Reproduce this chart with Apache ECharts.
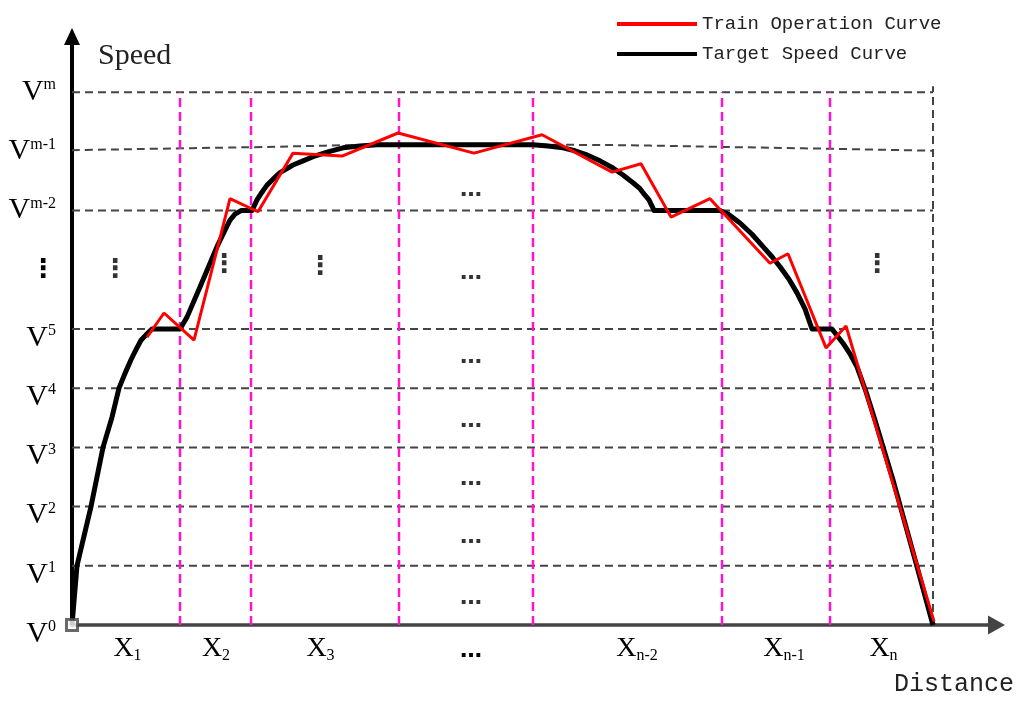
<!DOCTYPE html>
<html>
<head>
<meta charset="utf-8">
<script src="https://cdn.jsdelivr.net/npm/echarts@6/dist/echarts.min.js"></script>
<style>html,body{margin:0;padding:0;background:#fff}#c{width:1024px;height:707px}</style>
</head>
<body>
<div id="c"></div>
<script>
// ---- data (x: distance units, y: speed level units) ----
const targetCurve = [[0,0],[5,1.0],[12,1.5],[19,2.0],[25,2.5],[31,3.0],[40,3.51],[47,4.0],[53,4.25],[59,4.48],[64,4.65],[69,4.81],[74,4.9],[80,5.0],[108,5.0],[115,5.2],[128,5.71],[145,6.39],[153,6.67],[158,6.84],[163,6.94],[169,7.0],[180,7.0],[185,7.18],[190,7.31],[195,7.43],[201,7.53],[208,7.64],[221,7.77],[231,7.84],[241,7.91],[256,7.99],[271,8.06],[288,8.09],[305,8.11],[461,8.11],[476,8.09],[491,8.06],[503,8.01],[515,7.94],[528,7.84],[541,7.72],[551,7.6],[561,7.47],[568,7.37],[573,7.26],[577,7.18],[579,7.11],[581,7.04],[582,7.0],[648,7.0],[656,6.94],[668,6.79],[680,6.6],[691,6.39],[700,6.22],[708,6.05],[717,5.84],[725,5.61],[733,5.34],[740,5.0],[760,5.0],[771,4.76],[778,4.58],[785,4.36],[794,3.94],[803,3.46],[821,2.45],[841,1.23],[861,0]];
const trainCurve = [[75,4.86],[92,5.27],[122,4.81],[158,7.20],[186,6.98],[221,7.97],[270,7.92],[326,8.31],[402,7.97],[470,8.28],[540,7.65],[569,7.79],[599,6.89],[638,7.20],[698,6.11],[716,6.27],[754,4.68],[774,5.05],[862,0.06]];
const speedLevels = [1,2,3,4,5,7,9];
const levelVm1Line = [[0,8.02],[178,8.07],[328,8.11],[488,8.11],[668,8.07],[861,8.01]];
const sectionBounds = [108,179,327,461,650,758];
const endDistance = 861;
const topLevel = 9;
const yTickValues = [0,1,2,3,4,5,6,7,8,9];
const yTickSup = ['0','1','2','3','4','5','','m-2','m-1','m'];
const xTickPos = [55.5,144,248.5,399,565,712,811.5];
const xTickBase = ['X','X','X','…','X','X','X'];
const xTickSub = ['1','2','3','','n-2','n-1','n'];
const hDots = [[399,7.31],[399,5.91],[399,4.48],[399,3.41],[399,2.42],[399,1.45],[399,0.41]];
const vDots = [[43,6.0],[152,6.08],[248,6.05],[805,6.08]];
const seriesNames = ['Train Operation Curve','Target Speed Curve'];
const xAxisName = 'Distance';
const yAxisName = 'Speed';

const chart = echarts.init(document.getElementById('c'), null, {renderer:'canvas'});
const series = [];
const gridStyle = {color:'#444', width:2, type:[8,5]};
speedLevels.forEach(l => series.push({type:'line', data:[[0,l],[endDistance,l]], symbol:'none', silent:true, lineStyle:gridStyle, z:1}));
series.push({type:'line', data:levelVm1Line, symbol:'none', smooth:0.4, silent:true, lineStyle:gridStyle, z:1});
sectionBounds.forEach(b => series.push({type:'line', data:[[b,0],[b,topLevel]], symbol:'none', silent:true, lineStyle:{color:'#ff14c8', width:2.5, type:[9,5]}, z:1}));
series.push({type:'line', data:[[endDistance,0],[endDistance,topLevel+0.1]], symbol:'none', silent:true, lineStyle:{color:'#444', width:2, type:[8,5]}, z:1});
series.push({name:seriesNames[1], type:'line', data:targetCurve, symbol:'none', lineStyle:{color:'#000', width:5, join:'round'}, itemStyle:{color:'#000'}, z:3});
series.push({name:seriesNames[0], type:'line', data:trainCurve, symbol:'none', lineStyle:{color:'#ff0000', width:3}, itemStyle:{color:'#ff0000'}, z:4});
series.push({type:'scatter', data:[[0,0]], symbol:'rect', symbolSize:11, silent:true, clip:false, itemStyle:{color:'#fff', borderColor:'#444', borderWidth:3}, z:5});
series.push({type:'scatter', data:hDots, symbolSize:0, silent:true, label:{show:true, position:'inside', formatter:'…', fontFamily:'DejaVu Sans', fontWeight:'bold', fontSize:22, color:'#000', offset:[0,-2]}, z:2});
series.push({type:'scatter', data:vDots, symbolSize:0, silent:true, label:{show:true, position:'inside', formatter:'⋮', fontFamily:'DejaVu Sans', fontWeight:'bold', fontSize:26, color:'#000'}, z:2});

chart.setOption({
  animation:false,
  backgroundColor:'#fff',
  title:{text:xAxisName, left:894, top:670, padding:0, textStyle:{fontFamily:'Liberation Mono', fontSize:25, fontWeight:'normal', color:'#222', lineHeight:28}},
  grid:{left:72, right:27.5, top:36.5, bottom:82, outerBoundsMode:'none'},
  legend:{data:seriesNames, orient:'vertical', left:612, top:9, itemWidth:80, itemHeight:20, itemGap:10,
    icon:'path://M0,8 L80,8 L80,12 L0,12 Z',
    textStyle:{fontFamily:'Liberation Mono', fontSize:19, color:'#222', lineHeight:20}},
  xAxis:{type:'value', min:0, max:924.5, splitLine:{show:false}, axisTick:{show:false},
    axisLine:{lineStyle:{color:'#444', width:3.5}, symbol:['none','triangle'], symbolSize:[19,17]},
    axisLabel:{customValues:xTickPos, margin:9, color:'#000', fontFamily:'Liberation Serif',
      formatter:function(v){const i=xTickPos.indexOf(v); if(i<0) return ''; if(xTickBase[i]==='…') return '{e|…}'; return '{x|'+xTickBase[i]+'}{s|'+xTickSub[i]+'}';},
      rich:{x:{fontSize:28, lineHeight:30, fontFamily:'Liberation Serif', color:'#000'}, s:{fontSize:16, lineHeight:16, verticalAlign:'bottom', fontFamily:'Liberation Serif', color:'#000'}, e:{fontSize:22, lineHeight:34, fontFamily:'DejaVu Sans', fontWeight:'bold', color:'#000'}}}},
  yAxis:{type:'value', min:0, max:9.94, splitLine:{show:false}, axisTick:{show:false},
    axisLine:{lineStyle:{color:'#000', width:4}, symbol:['none','triangle'], symbolSize:[16,17]},
    name:yAxisName, nameLocation:'end', nameGap:-20,
    nameTextStyle:{fontFamily:'Liberation Serif', fontSize:30, color:'#222', align:'left', verticalAlign:'middle', padding:[0,0,0,26]},
    axisLabel:{customValues:yTickValues, margin:16, color:'#000',
      formatter:function(v){const i=Math.round(v); if(i===6) return '{d|⋮}'; const lab='{v|V}{s|'+yTickSup[i]+'}'; return i<=5 ? '{g| }\n'+lab : lab;},
      rich:{v:{fontSize:30, lineHeight:30, fontFamily:'Liberation Serif', color:'#000'}, s:{fontSize:16, lineHeight:16, verticalAlign:'top', fontFamily:'Liberation Serif', color:'#000'}, g:{fontSize:2, lineHeight:18}, d:{fontSize:26, lineHeight:30, fontFamily:'DejaVu Sans', fontWeight:'bold', color:'#000'}}}},
  series:series
});
</script>
</body>
</html>
